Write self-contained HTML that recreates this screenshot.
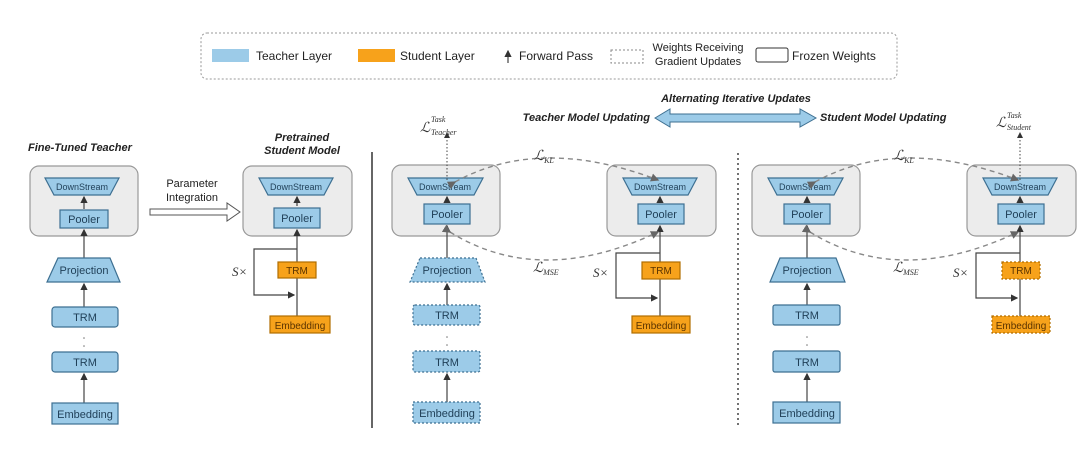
<!DOCTYPE html>
<html><head><meta charset="utf-8"><style>
html,body{margin:0;padding:0;background:#fff;}
svg{display:block;font-family:"Liberation Sans",sans-serif;}
.t{font-size:11px;fill:#222;}
.lg{font-size:12px;fill:#222;}
.b{fill:#9ccbe8;stroke:#3d6f91;stroke-width:1.2;}
.bd{fill:#9ccbe8;stroke:#3d6f91;stroke-width:1.2;stroke-dasharray:2 2;}
.o{fill:#f7a21b;stroke:#b06d00;stroke-width:1.2;}
.od{fill:#f7a21b;stroke:#b06d00;stroke-width:1.2;stroke-dasharray:2 2;}
.g{fill:#ececec;stroke:#999;stroke-width:1.2;}
.l{stroke:#444;stroke-width:1.2;fill:none;}
.bt{font-size:11px;fill:#1f3f57;text-anchor:middle;}
.bts{font-size:9px;fill:#1f3f57;text-anchor:middle;}
.ot{font-size:10px;fill:#5a3300;text-anchor:middle;}
.h{font-size:11px;font-weight:bold;font-style:italic;fill:#222;}
.m{font-family:"Liberation Serif",serif;font-style:italic;fill:#333;}
.da{stroke:#888;stroke-width:1.4;fill:none;stroke-dasharray:5 4;}
</style></head><body>
<svg width="1080" height="454" viewBox="0 0 1080 454" xmlns="http://www.w3.org/2000/svg">
<defs>
<marker id="a" markerWidth="6" markerHeight="6" refX="5" refY="3" orient="auto"><path d="M0,0 L6,3 L0,6 z" fill="#333"/></marker>
<marker id="ag" markerWidth="6" markerHeight="6" refX="5" refY="3" orient="auto"><path d="M0,0 L6,3 L0,6 z" fill="#666"/></marker>
</defs>
<!-- legend -->
<rect x="201" y="33" width="696" height="46" rx="6" fill="#fff" stroke="#999" stroke-dasharray="2 2"/>
<rect x="212" y="49" width="37" height="13" fill="#9ccbe8"/>
<text class="lg" x="256" y="60">Teacher Layer</text>
<rect x="358" y="49" width="37" height="13" fill="#f7a21b"/>
<text class="lg" x="400" y="60">Student Layer</text>
<line x1="508" y1="63" x2="508" y2="51" class="l" marker-end="url(#a)"/>
<text class="lg" x="519" y="60">Forward Pass</text>
<rect x="611" y="50" width="32" height="13" fill="#fff" stroke="#888" stroke-dasharray="2 2"/>
<text class="t" x="698" y="51" text-anchor="middle">Weights Receiving</text>
<text class="t" x="698" y="65" text-anchor="middle">Gradient Updates</text>
<rect x="756" y="48" width="32" height="14" rx="2" fill="#fff" stroke="#333"/>
<text class="lg" x="792" y="60">Frozen Weights</text>

<!-- Panel 1 -->
<text class="h" x="28" y="151">Fine-Tuned Teacher</text>
<rect class="g" x="30" y="166" width="108" height="70" rx="9"/>
<polygon class="b" points="45,178 119,178 110,195 54,195"/>
<text class="bts" x="82" y="190">DownStream</text>
<line class="l" x1="84" y1="209" x2="84" y2="197" marker-end="url(#a)"/>
<rect class="b" x="60" y="210" width="48" height="18"/>
<text class="bt" x="84" y="223">Pooler</text>
<line class="l" x1="84" y1="258" x2="84" y2="230" marker-end="url(#a)"/>
<polygon class="b" points="58,258 110,258 120,282 47,282"/>
<text class="bt" x="84" y="274">Projection</text>
<line class="l" x1="84" y1="307" x2="84" y2="284" marker-end="url(#a)"/>
<rect class="b" x="52" y="307" width="66" height="20" rx="3"/>
<text class="bt" x="85" y="321">TRM</text>
<circle cx="84" cy="338" r="0.8" fill="#777"/><circle cx="84" cy="346" r="0.8" fill="#777"/>
<rect class="b" x="52" y="352" width="66" height="20" rx="3"/>
<text class="bt" x="85" y="366">TRM</text>
<line class="l" x1="84" y1="403" x2="84" y2="374" marker-end="url(#a)"/>
<rect class="b" x="52" y="403" width="66" height="21"/>
<text class="bt" x="85" y="418">Embedding</text>

<!-- param integration -->
<text class="t" x="192" y="187" text-anchor="middle">Parameter</text>
<text class="t" x="192" y="201" text-anchor="middle">Integration</text>
<polygon points="150,209 227,209 227,203 240,212 227,221 227,215 150,215" fill="#fff" stroke="#555"/>

<!-- Panel 2 -->
<text class="h" x="302" y="141" text-anchor="middle">Pretrained</text>
<text class="h" x="302" y="154" text-anchor="middle">Student Model</text>
<rect class="g" x="243" y="166" width="109" height="70" rx="9"/>
<polygon class="b" points="259,178 333,178 324,195 268,195"/>
<text class="bts" x="296" y="190">DownStream</text>
<line class="l" x1="297" y1="206" x2="297" y2="197" marker-end="url(#a)"/>
<rect class="b" x="274" y="208" width="46" height="20"/>
<text class="bt" x="297" y="222">Pooler</text>
<line class="l" x1="297" y1="316" x2="297" y2="230" marker-end="url(#a)"/>
<polyline class="l" points="297,249 254,249 254,295 294,295" stroke-width="1.6" marker-end="url(#a)"/>
<text class="m" x="232" y="276" font-size="13">S×</text>
<rect class="o" x="278" y="262" width="38" height="16"/>
<text class="ot" x="297" y="274">TRM</text>
<rect class="o" x="270" y="316" width="60" height="17"/>
<text class="ot" x="300" y="329">Embedding</text>

<line x1="372" y1="152" x2="372" y2="428" stroke="#333" stroke-width="1.5"/>
<line x1="738" y1="153" x2="738" y2="428" stroke="#444" stroke-width="1.5" stroke-dasharray="2 3"/>

<!-- top header -->
<text class="h" x="736" y="102" text-anchor="middle">Alternating Iterative Updates</text>
<text class="h" x="650" y="121" text-anchor="end">Teacher Model Updating</text>
<text class="h" x="820" y="121">Student Model Updating</text>
<polygon points="655,118 670,109 670,114 800,114 800,109 816,118 800,127 800,122 670,122 670,127" fill="#9ccbe8" stroke="#3d6f91"/>

<!-- Panel 3 & 4 teacher -->
<g id="tp">
<rect class="g" x="392" y="165" width="108" height="71" rx="9"/>
<polygon class="b" points="408,178 483,178 474,195 417,195"/>
<text class="bts" x="445" y="190">DownStream</text>
<line class="l" x1="447" y1="203" x2="447" y2="197" marker-end="url(#a)"/>
<rect class="b" x="424" y="204" width="46" height="20"/>
<text class="bt" x="447" y="218">Pooler</text>
<line class="l" x1="447" y1="258" x2="447" y2="226" marker-end="url(#a)"/>
</g>
<polygon class="bd" points="420,258 476,258 485,282 410,282"/>
<text class="bt" x="447" y="274">Projection</text>
<line class="l" x1="447" y1="305" x2="447" y2="284" marker-end="url(#a)"/>
<rect class="bd" x="413" y="305" width="67" height="20" rx="2"/>
<text class="bt" x="447" y="319">TRM</text>
<circle cx="447" cy="337" r="0.8" fill="#777"/><circle cx="447" cy="345" r="0.8" fill="#777"/>
<rect class="bd" x="413" y="351" width="67" height="21" rx="2"/>
<text class="bt" x="447" y="366">TRM</text>
<line class="l" x1="447" y1="402" x2="447" y2="374" marker-end="url(#a)"/>
<rect class="bd" x="413" y="402" width="67" height="21"/>
<text class="bt" x="447" y="417">Embedding</text>
<line x1="447" y1="180" x2="447" y2="133" stroke="#444" stroke-dasharray="1.5 2" marker-end="url(#a)"/>
<text class="m" x="420" y="132" font-size="14">ℒ</text><text class="m" x="431" y="122" font-size="8">Task</text><text class="m" x="431" y="135" font-size="8">Teacher</text>

<use href="#tp" x="360"/>
<polygon class="b" points="780,258 836,258 845,282 770,282"/>
<text class="bt" x="807" y="274">Projection</text>
<line class="l" x1="807" y1="305" x2="807" y2="284" marker-end="url(#a)"/>
<rect class="b" x="773" y="305" width="67" height="20" rx="2"/>
<text class="bt" x="807" y="319">TRM</text>
<circle cx="807" cy="337" r="0.8" fill="#777"/><circle cx="807" cy="345" r="0.8" fill="#777"/>
<rect class="b" x="773" y="351" width="67" height="21" rx="2"/>
<text class="bt" x="807" y="366">TRM</text>
<line class="l" x1="807" y1="402" x2="807" y2="374" marker-end="url(#a)"/>
<rect class="b" x="773" y="402" width="67" height="21"/>
<text class="bt" x="807" y="417">Embedding</text>

<!-- students 3 & 4 -->
<g id="sp">
<rect class="g" x="607" y="165" width="109" height="71" rx="9"/>
<polygon class="b" points="623,178 697,178 688,195 632,195"/>
<text class="bts" x="660" y="190">DownStream</text>
<line class="l" x1="660" y1="203" x2="660" y2="197" marker-end="url(#a)"/>
<rect class="b" x="638" y="204" width="46" height="20"/>
<text class="bt" x="661" y="218">Pooler</text>
<line class="l" x1="660" y1="316" x2="660" y2="226" marker-end="url(#a)"/>
<polyline class="l" points="660,253 616,253 616,298 657,298" stroke-width="1.6" marker-end="url(#a)"/>
<text class="m" x="593" y="277" font-size="13">S×</text>
<path class="da" d="M455,182 Q540,135 658,180" marker-end="url(#ag)" marker-start="url(#ag)"/>
<path class="da" d="M450,232 Q540,288 658,232" marker-end="url(#ag)" marker-start="url(#ag)"/>
<text class="m" x="534" y="160" font-size="14">ℒ<tspan font-size="8" dy="3">KL</tspan></text>
<text class="m" x="533" y="272" font-size="14">ℒ<tspan font-size="8" dy="3">MSE</tspan></text>
</g>
<rect class="o" x="642" y="262" width="38" height="17"/>
<text class="ot" x="661" y="274">TRM</text>
<rect class="o" x="632" y="316" width="58" height="17"/>
<text class="ot" x="661" y="329">Embedding</text>

<use href="#sp" x="360"/>
<rect class="od" x="1002" y="262" width="38" height="17"/>
<text class="ot" x="1021" y="274">TRM</text>
<rect class="od" x="992" y="316" width="58" height="17"/>
<text class="ot" x="1021" y="329">Embedding</text>
<line x1="1020" y1="180" x2="1020" y2="133" stroke="#444" stroke-dasharray="1.5 2" marker-end="url(#a)"/>
<text class="m" x="996" y="127" font-size="14">ℒ</text><text class="m" x="1007" y="118" font-size="8">Task</text><text class="m" x="1007" y="130" font-size="8">Student</text>
</svg>
</body></html>
